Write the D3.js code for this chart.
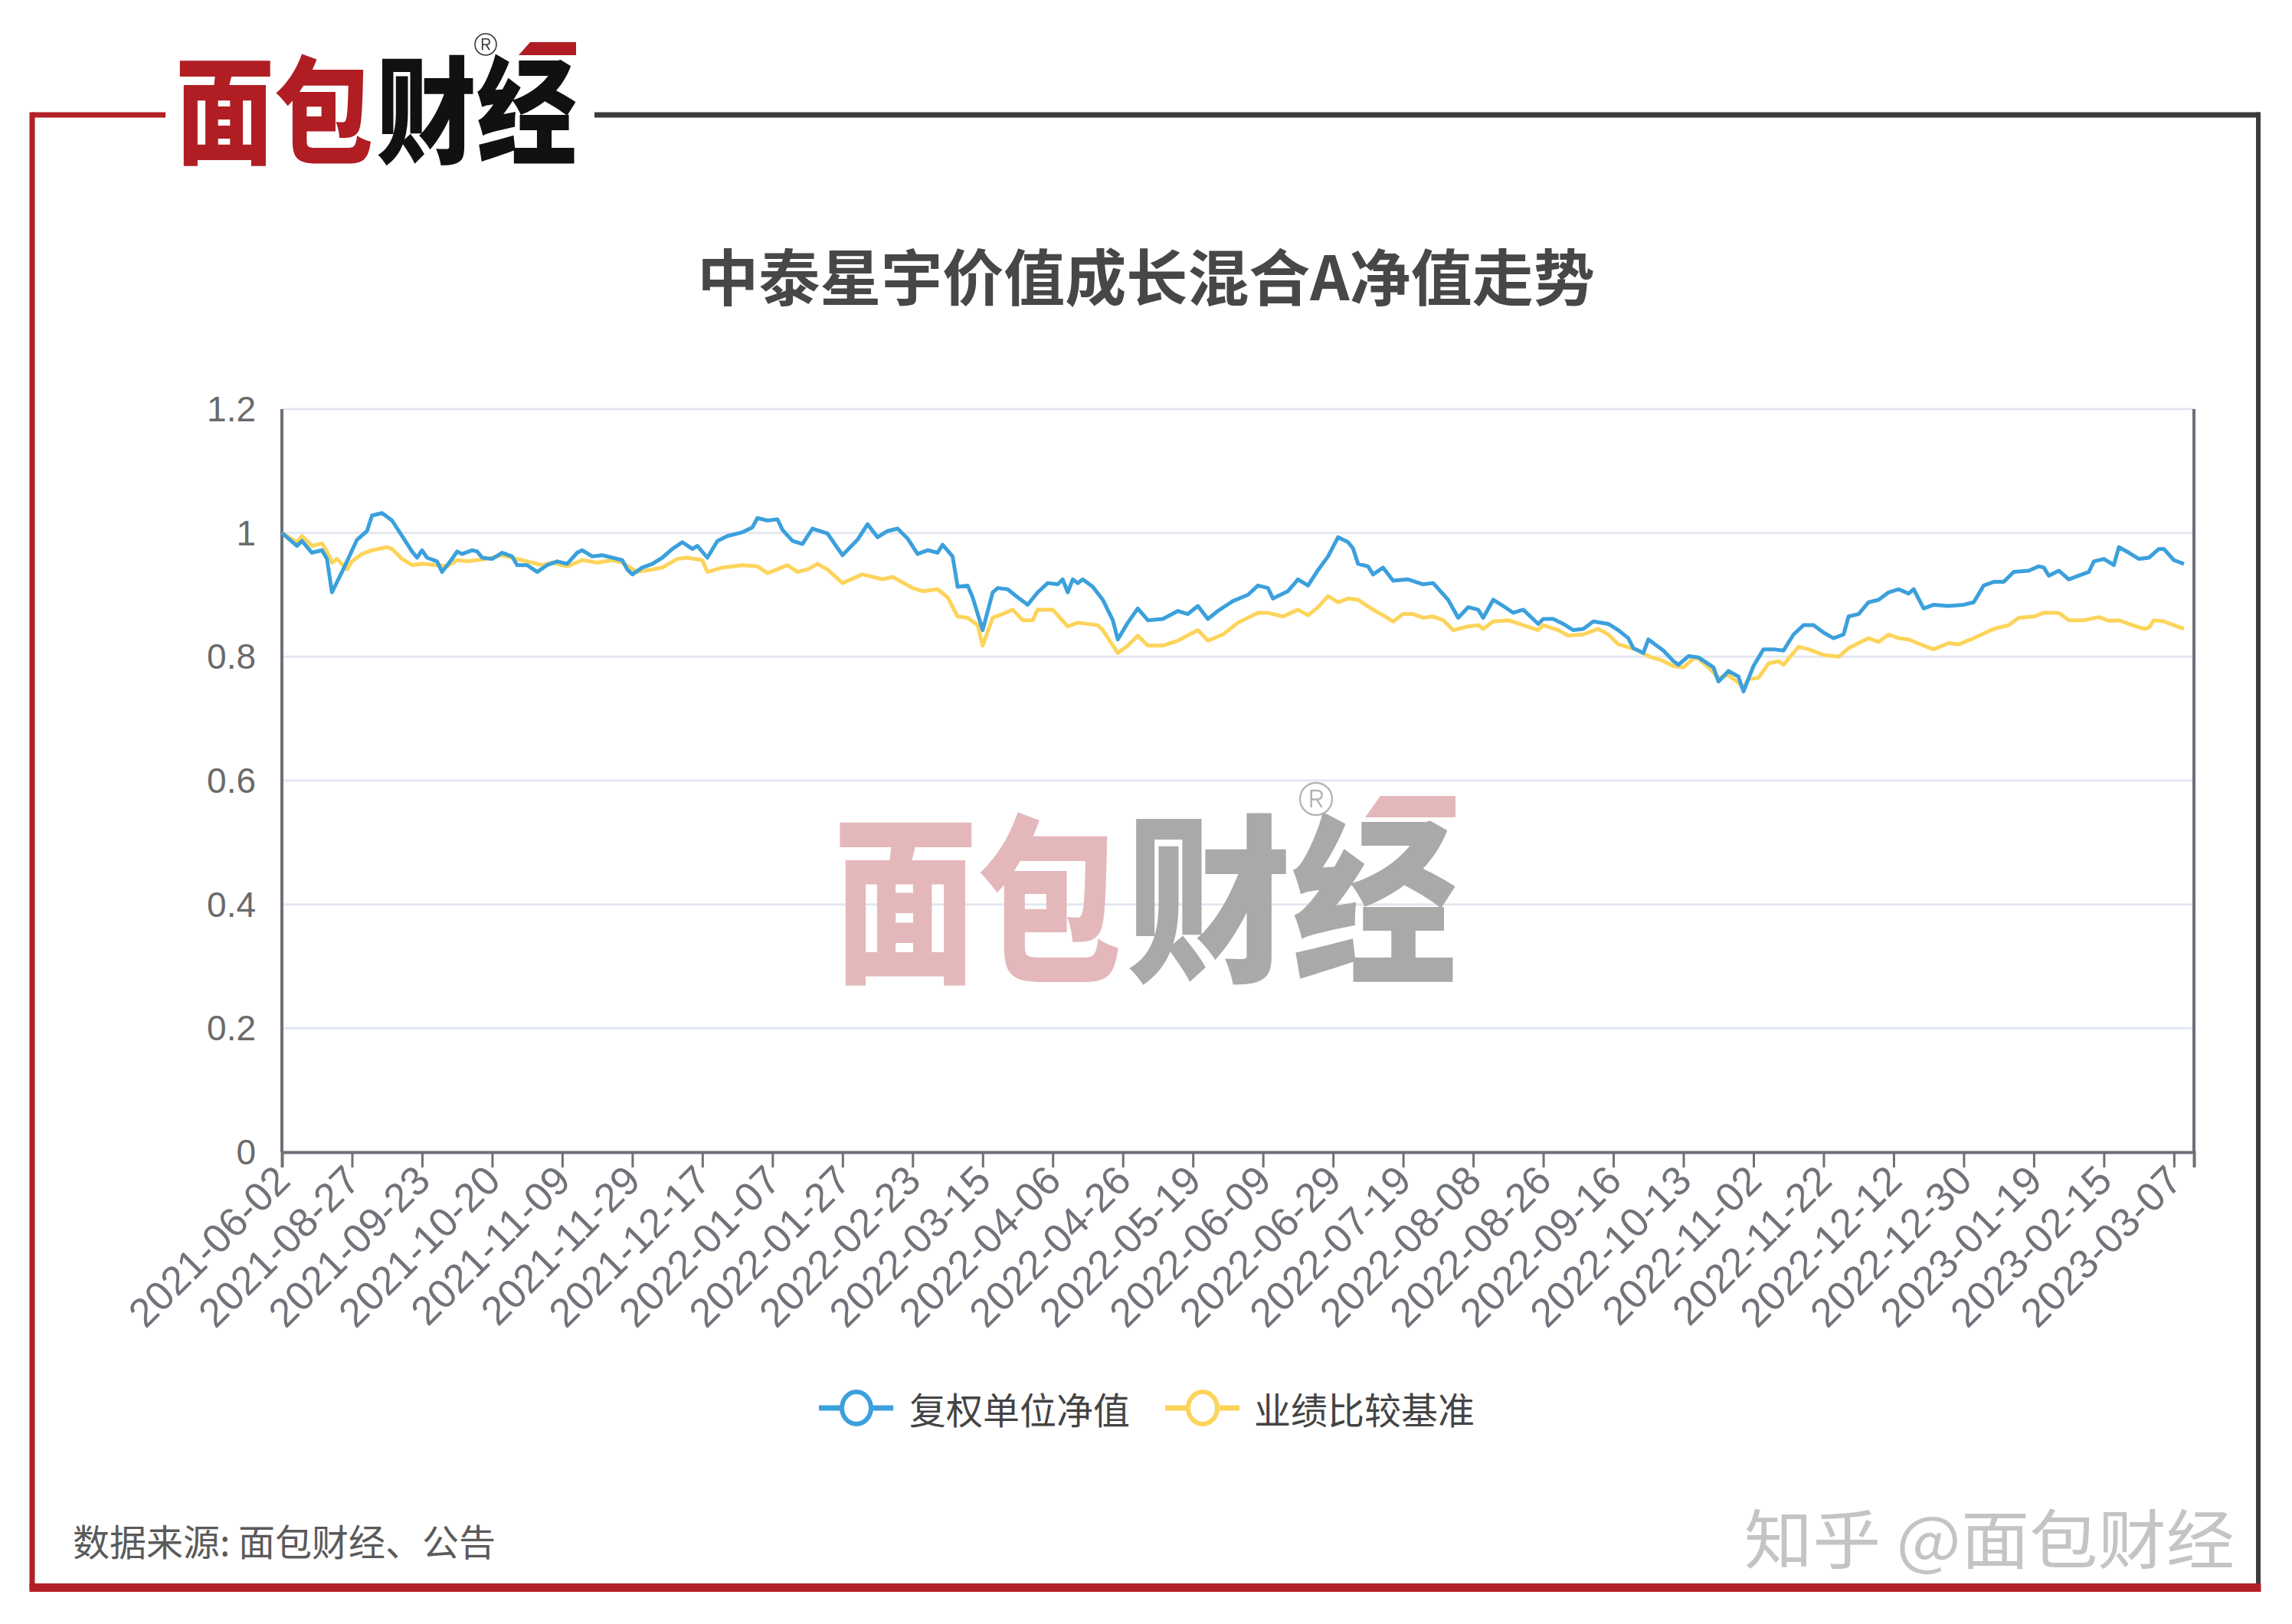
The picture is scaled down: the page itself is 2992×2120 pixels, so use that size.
<!DOCTYPE html>
<html><head><meta charset="utf-8">
<script src="https://cdn.jsdelivr.net/npm/d3@7"></script>
<style>html,body{margin:0;padding:0;background:#fff}svg{display:block}</style>
</head><body>
<svg id="c" width="2992" height="2120"></svg>
<script>
// ---------------- data ----------------
const chartTitle = "中泰星宇价值成长混合A净值走势";
const seriesNames = ["复权单位净值", "业绩比较基准"];
const seriesColors = ["#3ba0dc", "#fdd45b"];
const tickLabels = ["2021-06-02","2021-08-27","2021-09-23","2021-10-20","2021-11-09","2021-11-29","2021-12-17",
  "2022-01-07","2022-01-27","2022-02-23","2022-03-15","2022-04-06","2022-04-26","2022-05-19","2022-06-09",
  "2022-06-29","2022-07-19","2022-08-08","2022-08-26","2022-09-16","2022-10-13","2022-11-02","2022-11-22",
  "2022-12-12","2022-12-30","2023-01-19","2023-02-15","2023-03-07"];
const tickStep = 14;        // categories between labelled ticks
const lastIndex = 382;      // index of last category on the axis
const yTicks = [0, 0.2, 0.4, 0.6, 0.8, 1, 1.2];

// 复权单位净值 (index on category axis, value)
const navIdx = [0,3,4,6,8,9,10,12,13,15,17,18,20,22,24,26,27,28,29,31,32,34,35,36,38,39,40,42,44,46,47,49,51,53,55,57,59,60,62,64,66,68,69,70,72,74,76,78,80,82,83,85,87,89,92,94,95,97,99,100,102,104,106,109,112,115,117,119,121,123,125,127,129,131,132,134,135,137,138,140,142,143,145,147,149,151,153,155,156,157,158,159,160,162,164,166,167,169,171,173,176,179,181,183,185,187,190,193,195,197,198,201,203,205,207,209,211,213,214,215,217,218,220,222,225,228,230,233,235,237,239,240,242,244,246,248,251,252,254,256,258,260,262,265,267,269,270,272,273,276,278,279,281,283,286,287,289,291,292,294,296,298,300,302,304,306,308,310,312,313,315,317,319,321,323,325,326,328,330,333,336,338,340,342,344,346,349,351,352,353,355,357,359,361,362,364,366,367,369,371,373,375,376,378,380];
const navVal = [1.000,0.979,0.987,0.968,0.972,0.958,0.904,0.937,0.954,0.989,1.003,1.028,1.032,1.020,0.995,0.970,0.960,0.972,0.960,0.954,0.937,0.958,0.970,0.966,0.972,0.970,0.960,0.958,0.968,0.962,0.948,0.948,0.937,0.948,0.954,0.950,0.968,0.972,0.962,0.964,0.960,0.956,0.941,0.933,0.944,0.950,0.960,0.974,0.985,0.974,0.979,0.960,0.987,0.995,1.001,1.009,1.024,1.020,1.022,1.005,0.987,0.982,1.007,0.999,0.964,0.989,1.014,0.993,1.003,1.007,0.991,0.966,0.972,0.968,0.981,0.962,0.913,0.915,0.896,0.843,0.904,0.911,0.909,0.896,0.884,0.904,0.919,0.917,0.925,0.904,0.925,0.919,0.925,0.913,0.892,0.859,0.828,0.855,0.878,0.859,0.861,0.874,0.869,0.882,0.861,0.874,0.890,0.900,0.915,0.911,0.894,0.906,0.925,0.915,0.940,0.962,0.993,0.985,0.975,0.950,0.946,0.933,0.944,0.923,0.925,0.917,0.919,0.892,0.863,0.880,0.876,0.863,0.892,0.882,0.871,0.876,0.853,0.861,0.861,0.853,0.843,0.845,0.857,0.853,0.843,0.830,0.814,0.806,0.828,0.810,0.793,0.787,0.801,0.799,0.783,0.760,0.777,0.768,0.744,0.785,0.812,0.812,0.810,0.836,0.851,0.851,0.839,0.830,0.836,0.865,0.869,0.888,0.892,0.904,0.909,0.902,0.909,0.878,0.884,0.882,0.884,0.888,0.915,0.921,0.921,0.937,0.939,0.946,0.944,0.931,0.939,0.925,0.931,0.937,0.954,0.958,0.948,0.977,0.968,0.958,0.960,0.974,0.974,0.956,0.950];

// 业绩比较基准
const benchIdx = [0,3,4,6,8,9,10,11,13,14,16,18,21,22,24,26,28,31,33,35,37,41,44,46,49,52,54,57,60,63,66,68,71,74,76,79,81,84,85,88,92,95,97,101,103,105,107,109,112,116,120,122,126,128,131,133,135,137,139,140,142,144,146,148,150,151,154,157,159,163,164,167,169,171,173,176,179,183,185,188,191,195,197,200,203,205,207,209,211,213,215,218,220,222,224,226,228,230,232,234,237,239,240,242,245,248,251,252,255,257,260,263,265,267,268,271,273,276,278,280,282,283,285,287,289,291,292,293,295,297,299,300,303,305,308,311,313,317,319,321,323,325,328,330,333,335,338,342,345,347,350,352,355,357,360,363,365,367,369,372,373,374,376,378,380];
const benchVal = [1.000,0.985,0.995,0.979,0.983,0.970,0.952,0.958,0.941,0.954,0.966,0.972,0.977,0.974,0.958,0.948,0.950,0.948,0.946,0.956,0.954,0.958,0.964,0.960,0.954,0.948,0.952,0.946,0.956,0.952,0.956,0.952,0.937,0.941,0.944,0.958,0.960,0.956,0.937,0.944,0.948,0.946,0.935,0.948,0.937,0.941,0.950,0.941,0.919,0.933,0.925,0.929,0.911,0.906,0.909,0.896,0.865,0.863,0.851,0.818,0.863,0.869,0.876,0.859,0.859,0.876,0.876,0.849,0.855,0.851,0.843,0.806,0.818,0.834,0.818,0.818,0.826,0.843,0.826,0.836,0.855,0.871,0.871,0.865,0.876,0.867,0.880,0.898,0.888,0.894,0.892,0.876,0.867,0.857,0.869,0.869,0.863,0.865,0.859,0.843,0.849,0.851,0.845,0.857,0.859,0.851,0.843,0.851,0.843,0.834,0.836,0.845,0.836,0.820,0.818,0.810,0.801,0.793,0.785,0.783,0.797,0.797,0.783,0.766,0.770,0.758,0.750,0.764,0.766,0.789,0.793,0.787,0.816,0.812,0.803,0.800,0.814,0.830,0.824,0.836,0.830,0.828,0.818,0.812,0.822,0.820,0.830,0.845,0.851,0.863,0.865,0.871,0.871,0.859,0.859,0.864,0.858,0.859,0.853,0.845,0.847,0.859,0.857,0.851,0.845];

// ---------------- drawing ----------------
const svg = d3.select("#c");
const W = 2992, H = 2120;
const plot = {left: 368, right: 2864, top: 534, bottom: 1504};
const CJK = "'Noto Sans CJK SC','Noto Sans',sans-serif";
const LAT = "'Liberation Sans','DejaVu Sans',Arial,sans-serif";

svg.append("rect").attr("width", W).attr("height", H).attr("fill", "#fff");

// registered-mark graphic (circle + R outline)
function regMark(cx, cy, r, color) {
  const g = svg.append("g").attr("transform", `translate(${cx},${cy})`);
  g.append("circle").attr("r", r).attr("fill", "none").attr("stroke", color).attr("stroke-width", r * 0.11);
  const s = r;
  g.append("path")
    .attr("d", `M${-0.3*s},${0.52*s} V${-0.52*s} H${0.06*s} Q${0.36*s},${-0.52*s} ${0.36*s},${-0.25*s} Q${0.36*s},${0.02*s} ${0.06*s},${0.02*s} H${-0.3*s} M${0.04*s},${0.02*s} L${0.36*s},${0.52*s}`)
    .attr("fill", "none").attr("stroke", color).attr("stroke-width", r * 0.12);
}

// logo word: two glyphs drawn to a given width, stretched vertically to a given height
function logoWord(txt, x0, baseY, width, glyphSize, color) {
  const fs = width / 2;
  svg.append("text").attr("transform", `translate(${x0},${baseY}) scale(1,${glyphSize / fs})`)
    .attr("font-family", CJK).attr("font-weight", 900).attr("font-size", fs).attr("fill", color).text(txt);
}

// frame
const red = "#b11f27", dark = "#3a3a3a";
svg.append("line").attr("x1", 42).attr("x2", 216).attr("y1", 150).attr("y2", 150).attr("stroke", red).attr("stroke-width", 7);
svg.append("line").attr("x1", 42).attr("x2", 42).attr("y1", 146.5).attr("y2", 2074).attr("stroke", red).attr("stroke-width", 7);
svg.append("line").attr("x1", 776).attr("x2", 2950).attr("y1", 150).attr("y2", 150).attr("stroke", dark).attr("stroke-width", 7);
svg.append("line").attr("x1", 2948).attr("x2", 2948).attr("y1", 146.5).attr("y2", 2074).attr("stroke", dark).attr("stroke-width", 6);
svg.append("rect").attr("x", 38.5).attr("y", 2067).attr("width", 2913).attr("height", 11).attr("fill", red);

// top logo
logoWord("面包", 229, 202, 258, 152, "#b01e23");
logoWord("财经", 491, 202, 262, 152, "#111");
svg.append("polygon").attr("points", "692,55 752,55 752,72 677,72").attr("fill", "#b01e23");
regMark(634, 58, 14, "#333");

// title
svg.append("text").attr("x", 1496).attr("y", 357).attr("text-anchor", "middle").attr("dominant-baseline", "central")
  .attr("font-family", CJK).attr("font-weight", 700).attr("font-size", 80).attr("fill", "#474747").text(chartTitle);

// scales
const x = d3.scaleLinear().domain([0, lastIndex]).range([plot.left, plot.right]);
const y = d3.scaleLinear().domain([0, 1.2]).range([plot.bottom, plot.top]);

// grid
svg.append("g").selectAll("line").data(yTicks.filter(d => d > 0)).join("line")
  .attr("x1", plot.left).attr("x2", plot.right).attr("y1", d => y(d)).attr("y2", d => y(d))
  .attr("stroke", "#e2e7f0").attr("stroke-width", 3);

// watermark logo
logoWord("面包", 1088, 1264, 376, 236, "#e4b8ba");
logoWord("财经", 1470, 1264, 432, 236, "#a9a9a9");
svg.append("polygon").attr("points", "1802,1039 1900,1039 1900,1067 1782,1067").attr("fill", "#e4b8ba");
regMark(1718, 1043, 21, "#b4b4b4");

// y axis
const axisColor = "#6e7079";
svg.append("line").attr("x1", plot.left).attr("x2", plot.left).attr("y1", plot.top).attr("y2", plot.bottom)
  .attr("stroke", axisColor).attr("stroke-width", 4);
svg.append("line").attr("x1", plot.right).attr("x2", plot.right).attr("y1", plot.top).attr("y2", plot.bottom)
  .attr("stroke", axisColor).attr("stroke-width", 4);
svg.append("g").selectAll("text").data(yTicks).join("text")
  .attr("x", 334).attr("y", d => y(d)).attr("text-anchor", "end").attr("dominant-baseline", "central")
  .attr("font-family", LAT).attr("font-size", 46).attr("fill", "#6a6a6a").text(d => String(d));

// x axis
const tickVals = tickLabels.map((_, i) => i * tickStep);
const xAxis = d3.axisBottom(x).tickValues(tickVals).tickFormat((d, i) => tickLabels[i]).tickSize(20).tickSizeOuter(20).tickPadding(0);
const gx = svg.append("g").attr("transform", `translate(0,${plot.bottom})`).call(xAxis);
gx.select(".domain").attr("stroke", axisColor).attr("stroke-width", 4);
gx.selectAll(".tick line").attr("stroke", axisColor).attr("stroke-width", 3);
gx.selectAll(".tick text")
  .attr("font-family", LAT).attr("font-size", 53).attr("fill", "#70737a")
  .attr("text-anchor", "end").attr("dy", null).attr("y", null)
  .attr("dominant-baseline", "central")
  .attr("transform", "translate(0,27) rotate(-45)");

// lines
const line = d3.line().x(d => x(d[0])).y(d => y(d[1]));
const navData = navIdx.map((d, i) => [d, navVal[i]]);
const benchData = benchIdx.map((d, i) => [d, benchVal[i]]);
svg.append("path").datum(benchData).attr("d", line).attr("fill", "none")
  .attr("stroke", seriesColors[1]).attr("stroke-width", 5).attr("stroke-linejoin", "round");
svg.append("path").datum(navData).attr("d", line).attr("fill", "none")
  .attr("stroke", seriesColors[0]).attr("stroke-width", 5).attr("stroke-linejoin", "round");

// legend
const legendItems = [{x: 1069, tx: 1187}, {x: 1521, tx: 1637}];
legendItems.forEach((it, i) => {
  const g = svg.append("g");
  g.append("line").attr("x1", it.x).attr("x2", it.x + 97).attr("y1", 1838).attr("y2", 1838)
    .attr("stroke", seriesColors[i]).attr("stroke-width", 7);
  g.append("ellipse").attr("cx", it.x + 49).attr("cy", 1838).attr("rx", 19).attr("ry", 21)
    .attr("fill", "#fff").attr("stroke", seriesColors[i]).attr("stroke-width", 6);
  g.append("text").attr("x", it.tx).attr("y", 1838).attr("dominant-baseline", "central")
    .attr("font-family", CJK).attr("font-size", 48).attr("fill", "#444").text(seriesNames[i]);
});

// footer
svg.append("text").attr("x", 95).attr("y", 2010).attr("dominant-baseline", "central")
  .attr("font-family", CJK).attr("font-size", 48).attr("fill", "#5a5a5a").text("数据来源: 面包财经、公告");
svg.append("text").attr("x", 2277).attr("y", 2004).attr("dominant-baseline", "central")
  .attr("font-family", CJK).attr("font-size", 84).attr("fill", "#c4c4c4")
  .attr("textLength", 640).attr("lengthAdjust", "spacingAndGlyphs").text("知乎 @面包财经");
</script>
</body></html>
